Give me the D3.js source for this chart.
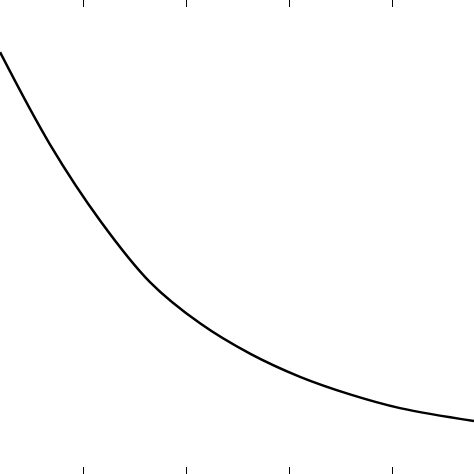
<!DOCTYPE html>
<html><head><script src="https://cdn.jsdelivr.net/npm/d3@7"></script>
<style>body{margin:0;background:#fff}</style></head><body>
<script>
const xs=[0.194,0.68,1.165,1.65,2.136,2.621,3.107,3.592,4.078,4.796];
const ys=[0.89,0.695,0.535,0.405,0.318,0.254,0.205,0.168,0.139,0.112];
const xticks=[1,2,3,4];
const W=474,H=474;
const svg=d3.select("body").append("svg").attr("width",W).attr("height",H);
const x=d3.scaleLinear().domain([0.194,4.796]).range([0,W]);
const y=d3.scaleLinear().domain([0,1]).range([H,0]);
svg.append("g").call(d3.axisBottom(x).tickValues(xticks).tickSize(7).tickFormat("")).call(g=>g.select(".domain").remove());
svg.append("g").attr("transform",`translate(0,${H})`).call(d3.axisTop(x).tickValues(xticks).tickSize(7).tickFormat("")).call(g=>g.select(".domain").remove());
svg.append("path").datum(xs.map((v,i)=>[v,ys[i]])).attr("fill","none").attr("stroke","#000").attr("stroke-width",2.5)
 .attr("d",d3.line().x(d=>x(d[0])).y(d=>y(d[1])).curve(d3.curveCatmullRom));
</script></body></html>
